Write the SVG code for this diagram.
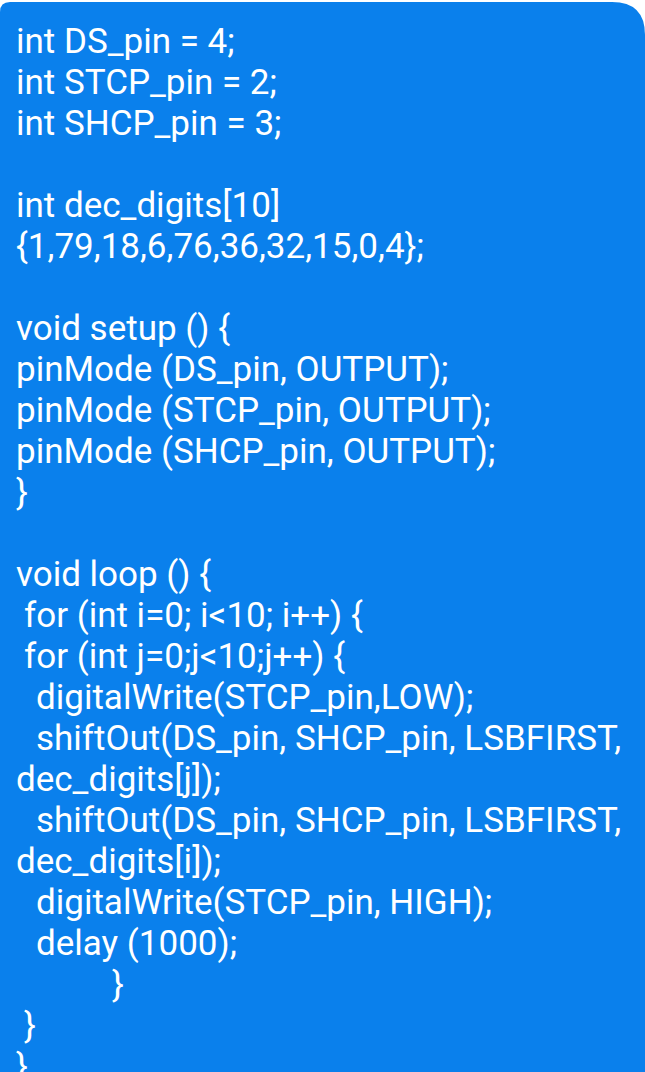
<svg xmlns="http://www.w3.org/2000/svg" width="645" height="1072" viewBox="0 0 645 1072">
<style>
text{font-family:Roboto,"Liberation Sans",sans-serif;font-size:35px;fill:#ffffff}
</style>
<rect width="645" height="1072" fill="#ffffff"/>
<path d="M0 12 Q0 2 10 2 L612 2 Q645 2 645 35 L645 1072 L0 1072 Z" fill="#0a80ec"/>
<g id="code">
<text x="16" y="53">int DS_pin = 4;</text>
<text x="16" y="94">int STCP_pin = 2;</text>
<text x="16" y="135">int SHCP_pin = 3;</text>
<text x="16" y="217">int dec_digits[10]</text>
<text x="16" y="258">{1,79,18,6,76,36,32,15,0,4};</text>
<text x="16" y="340">void setup () {</text>
<text x="16" y="381">pinMode (DS_pin, OUTPUT);</text>
<text x="16" y="422">pinMode (STCP_pin, OUTPUT);</text>
<text x="16" y="463">pinMode (SHCP_pin, OUTPUT);</text>
<text x="16" y="504">}</text>
<text x="16" y="586">void loop () {</text>
<text x="24" y="627">for (int i=0; i&lt;10; i++) {</text>
<text x="24" y="668">for (int j=0;j&lt;10;j++) {</text>
<text x="36" y="709">digitalWrite(STCP_pin,LOW);</text>
<text x="36" y="750">shiftOut(DS_pin, SHCP_pin, LSBFIRST,</text>
<text x="16" y="791">dec_digits[j]);</text>
<text x="36" y="832">shiftOut(DS_pin, SHCP_pin, LSBFIRST,</text>
<text x="16" y="873">dec_digits[i]);</text>
<text x="36" y="914">digitalWrite(STCP_pin, HIGH);</text>
<text x="36" y="955">delay (1000);</text>
<text x="112" y="996">}</text>
<text x="24" y="1037">}</text>
<text x="16" y="1078">}</text>
</g>
</svg>
